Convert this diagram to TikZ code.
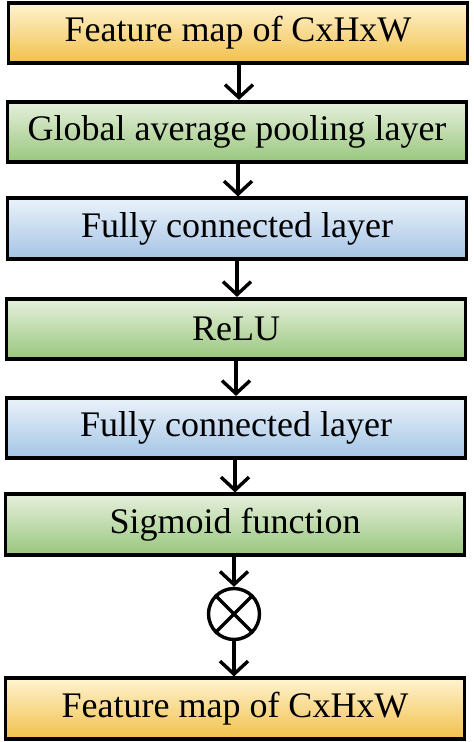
\documentclass[tikz,border=0pt]{standalone}
\usepackage{fontspec}
\setmainfont{Liberation Serif}
\usetikzlibrary{arrows.meta}
\definecolor{yT}{HTML}{FFF3D0}
\definecolor{yM}{HTML}{FFE6A0}
\definecolor{yB}{HTML}{F2C04A}
\definecolor{gT}{HTML}{E6F0DC}
\definecolor{gM}{HTML}{CFE3BE}
\definecolor{gB}{HTML}{98C67C}
\definecolor{bT}{HTML}{EAF2FA}
\definecolor{bM}{HTML}{CFE0F2}
\definecolor{bB}{HTML}{A4C4E6}
\tikzset{
  box/.style={draw=black, line width=3.6pt, minimum width=459pt, minimum height=60.5pt,
    inner sep=0pt, font=\fontsize{36}{40}\selectfont},
  yellowbox/.style={box, top color=yT, middle color=yM, bottom color=yB},
  greenbox/.style={box, top color=gT, middle color=gM, bottom color=gB},
  bluebox/.style={box, top color=bT, middle color=bM, bottom color=bB},
  flow/.style={draw=black, line width=3.4pt, -{Straight Barb[length=13pt,width=28pt]}},
  multnode/.style={circle, draw=black, line width=3.4pt, minimum size=51pt, inner sep=0pt}
}
\begin{document}
\begin{tikzpicture}[x=1pt, y=-1pt]
\useasboundingbox (0,0) rectangle (474,742);
\node[yellowbox] (b1) at (238,33) {Feature map of CxHxW};
\node[greenbox]  (b2) at (237,132) {Global average pooling layer};
\node[bluebox]   (b3) at (237,228.5) {Fully connected layer};
\node[greenbox]  (b4) at (236,329) {ReLU};
\node[bluebox]   (b5) at (236,428) {Fully connected layer};
\node[greenbox]  (b6) at (235,524.5) {Sigmoid function};
\node[multnode]  (m)  at (234,614) {};
\draw[line width=3.4pt] (m.north west) -- (m.south east) (m.north east) -- (m.south west);
\node[yellowbox] (b7) at (235,708.5) {Feature map of CxHxW};
\draw[flow] (b1.south -| 239,0) -- (b2.north -| 239,0);
\draw[flow] (b2.south -| 238,0) -- (b3.north -| 238,0);
\draw[flow] (b3.south -| 237,0) -- (b4.north -| 237,0);
\draw[flow] (b4.south -| 236,0) -- (b5.north -| 236,0);
\draw[flow] (b5.south -| 235,0) -- (b6.north -| 235,0);
\draw[flow] (b6.south -| 234,0) -- (m.north);
\draw[flow] (m.south) -- (b7.north -| 234,0);
\end{tikzpicture}
\end{document}
